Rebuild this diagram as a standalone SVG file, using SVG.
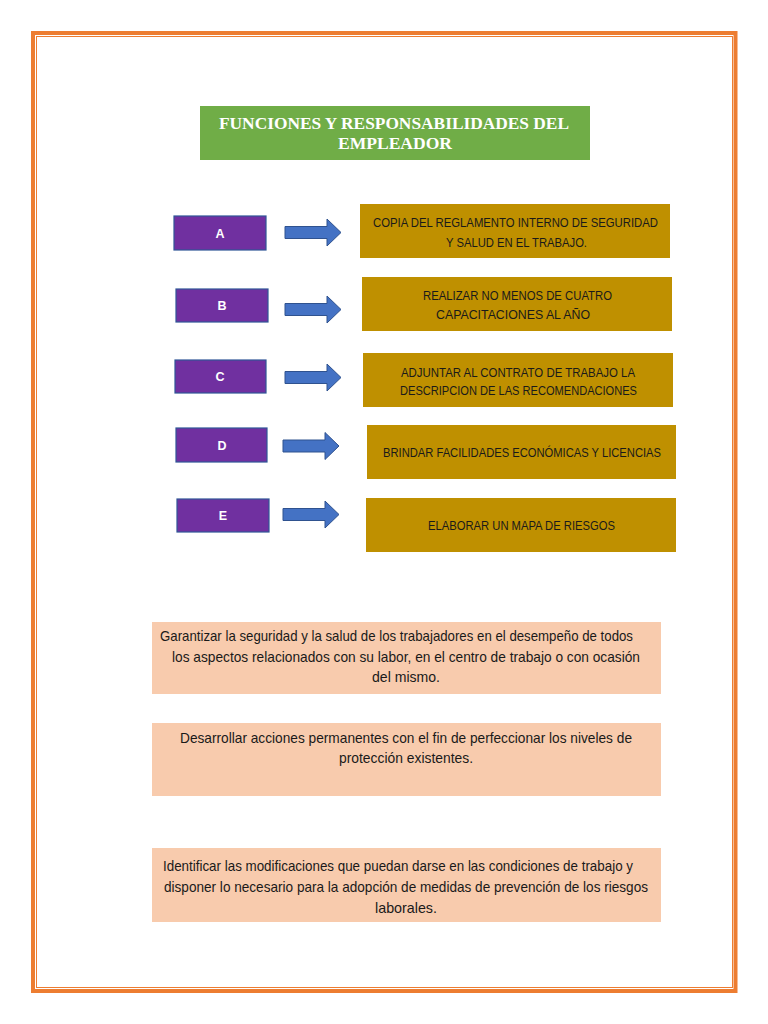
<svg xmlns="http://www.w3.org/2000/svg" width="768" height="1024" viewBox="0 0 768 1024">
<defs>
<style>
.bord{fill:none;stroke:#ed7d31}
.title{fill:#6aa84f;fill:#70ad47}
.tt{font-family:"Liberation Serif",serif;font-weight:bold;font-size:17px;fill:#ffffff;text-anchor:middle}
.let{fill:#7030a0;stroke:#2f5597;stroke-width:1.2}
.lt{font-family:"Liberation Sans",Arial,sans-serif;font-weight:bold;font-size:12.5px;fill:#ffffff;text-anchor:middle}
.arr{fill:#4472c4;stroke:#2f528f;stroke-width:1}
.gold{fill:#bf9000}
.gt{font-family:"Liberation Sans",Arial,sans-serif;font-size:13px;fill:#1a1a1a;text-anchor:middle}
.peach{fill:#f8cbad}
.pt{font-family:"Liberation Sans",Arial,sans-serif;font-size:14.5px;fill:#1a1a1a;text-anchor:middle}
</style>
</defs>
<rect width="768" height="1024" fill="#ffffff"/>
<g id="border">
<rect class="bord" x="33" y="33" width="702.5" height="958" stroke-width="4"/>
<rect class="bord" x="36.5" y="36.5" width="696" height="951" stroke-width="1"/>
</g>
<g id="title">
<rect class="title" x="200" y="106" width="390" height="54"/>
<text class="tt" x="394" y="129" textLength="350" lengthAdjust="spacingAndGlyphs">FUNCIONES Y RESPONSABILIDADES DEL</text>
<text class="tt" x="395" y="149" textLength="114" lengthAdjust="spacingAndGlyphs">EMPLEADOR</text>
</g>
<g id="connectors">
<path class="arr" d="M285,226.5 H327 V219 L341,232.5 L327,246 V238.5 H285 Z"/>
<path class="arr" d="M285,303.5 H327 V296 L341,309.5 L327,323 V315.5 H285 Z"/>
<path class="arr" d="M285,371.5 H327 V364 L341,377.5 L327,391 V383.5 H285 Z"/>
<path class="arr" d="M283,440 H325 V432.5 L339,446 L325,459.5 V452 H283 Z"/>
<path class="arr" d="M283,508.5 H325 V501 L339,514.5 L325,528 V520.5 H283 Z"/>
</g>
<g id="node-a">
<rect class="let" x="174" y="216" width="92" height="34"/>
<text class="lt" x="220" y="237.5">A</text>
</g>
<g id="node-b">
<rect class="let" x="176" y="289" width="92" height="33"/>
<text class="lt" x="222" y="310">B</text>
</g>
<g id="node-c">
<rect class="let" x="175" y="360" width="91" height="33"/>
<text class="lt" x="220" y="381">C</text>
</g>
<g id="node-d">
<rect class="let" x="176" y="428" width="91" height="34"/>
<text class="lt" x="222" y="449.5">D</text>
</g>
<g id="node-e">
<rect class="let" x="177" y="499" width="92" height="33"/>
<text class="lt" x="223" y="520">E</text>
</g>
<g id="box-a">
<rect class="gold" x="360" y="204" width="310" height="54"/>
<text class="gt" x="515.5" y="227" textLength="285" lengthAdjust="spacingAndGlyphs">COPIA DEL REGLAMENTO INTERNO DE SEGURIDAD</text>
<text class="gt" x="516.5" y="246.5" textLength="141" lengthAdjust="spacingAndGlyphs">Y SALUD EN EL TRABAJO.</text>
</g>
<g id="box-b">
<rect class="gold" x="362" y="277" width="310" height="54"/>
<text class="gt" x="517.5" y="300" textLength="189" lengthAdjust="spacingAndGlyphs">REALIZAR NO MENOS DE CUATRO</text>
<text class="gt" x="513" y="318.5" textLength="154" lengthAdjust="spacingAndGlyphs">CAPACITACIONES AL AÑO</text>
</g>
<g id="box-c">
<rect class="gold" x="363" y="353" width="310" height="54"/>
<text class="gt" x="518" y="376.5" textLength="234" lengthAdjust="spacingAndGlyphs">ADJUNTAR AL CONTRATO DE TRABAJO LA</text>
<text class="gt" x="518.5" y="395" textLength="237" lengthAdjust="spacingAndGlyphs">DESCRIPCION DE LAS RECOMENDACIONES</text>
</g>
<g id="box-d">
<rect class="gold" x="367" y="425" width="309" height="54"/>
<text class="gt" x="522" y="457" textLength="278" lengthAdjust="spacingAndGlyphs">BRINDAR FACILIDADES ECONÓMICAS Y LICENCIAS</text>
</g>
<g id="box-e">
<rect class="gold" x="366" y="498" width="310" height="54"/>
<text class="gt" x="521.5" y="530" textLength="187" lengthAdjust="spacingAndGlyphs">ELABORAR UN MAPA DE RIESGOS</text>
</g>
<g id="note-1">
<rect class="peach" x="152" y="622" width="509" height="72"/>
<text class="pt" x="396.5" y="641" textLength="473" lengthAdjust="spacingAndGlyphs">Garantizar la seguridad y la salud de los trabajadores en el desempeño de todos</text>
<text class="pt" x="406" y="662" textLength="468" lengthAdjust="spacingAndGlyphs">los aspectos relacionados con su labor, en el centro de trabajo o con ocasión</text>
<text class="pt" x="406" y="682" textLength="68" lengthAdjust="spacingAndGlyphs">del mismo.</text>
</g>
<g id="note-2">
<rect class="peach" x="152" y="723" width="509" height="73"/>
<text class="pt" x="406" y="743" textLength="452" lengthAdjust="spacingAndGlyphs">Desarrollar acciones permanentes con el fin de perfeccionar los niveles de</text>
<text class="pt" x="406" y="763" textLength="134" lengthAdjust="spacingAndGlyphs">protección existentes.</text>
</g>
<g id="note-3">
<rect class="peach" x="152" y="848" width="509" height="74"/>
<text class="pt" x="398" y="871" textLength="470" lengthAdjust="spacingAndGlyphs">Identificar las modificaciones que puedan darse en las condiciones de trabajo y</text>
<text class="pt" x="406" y="892" textLength="484" lengthAdjust="spacingAndGlyphs">disponer lo necesario para la adopción de medidas de prevención de los riesgos</text>
<text class="pt" x="406" y="913" textLength="62" lengthAdjust="spacingAndGlyphs">laborales.</text>
</g>
</svg>
